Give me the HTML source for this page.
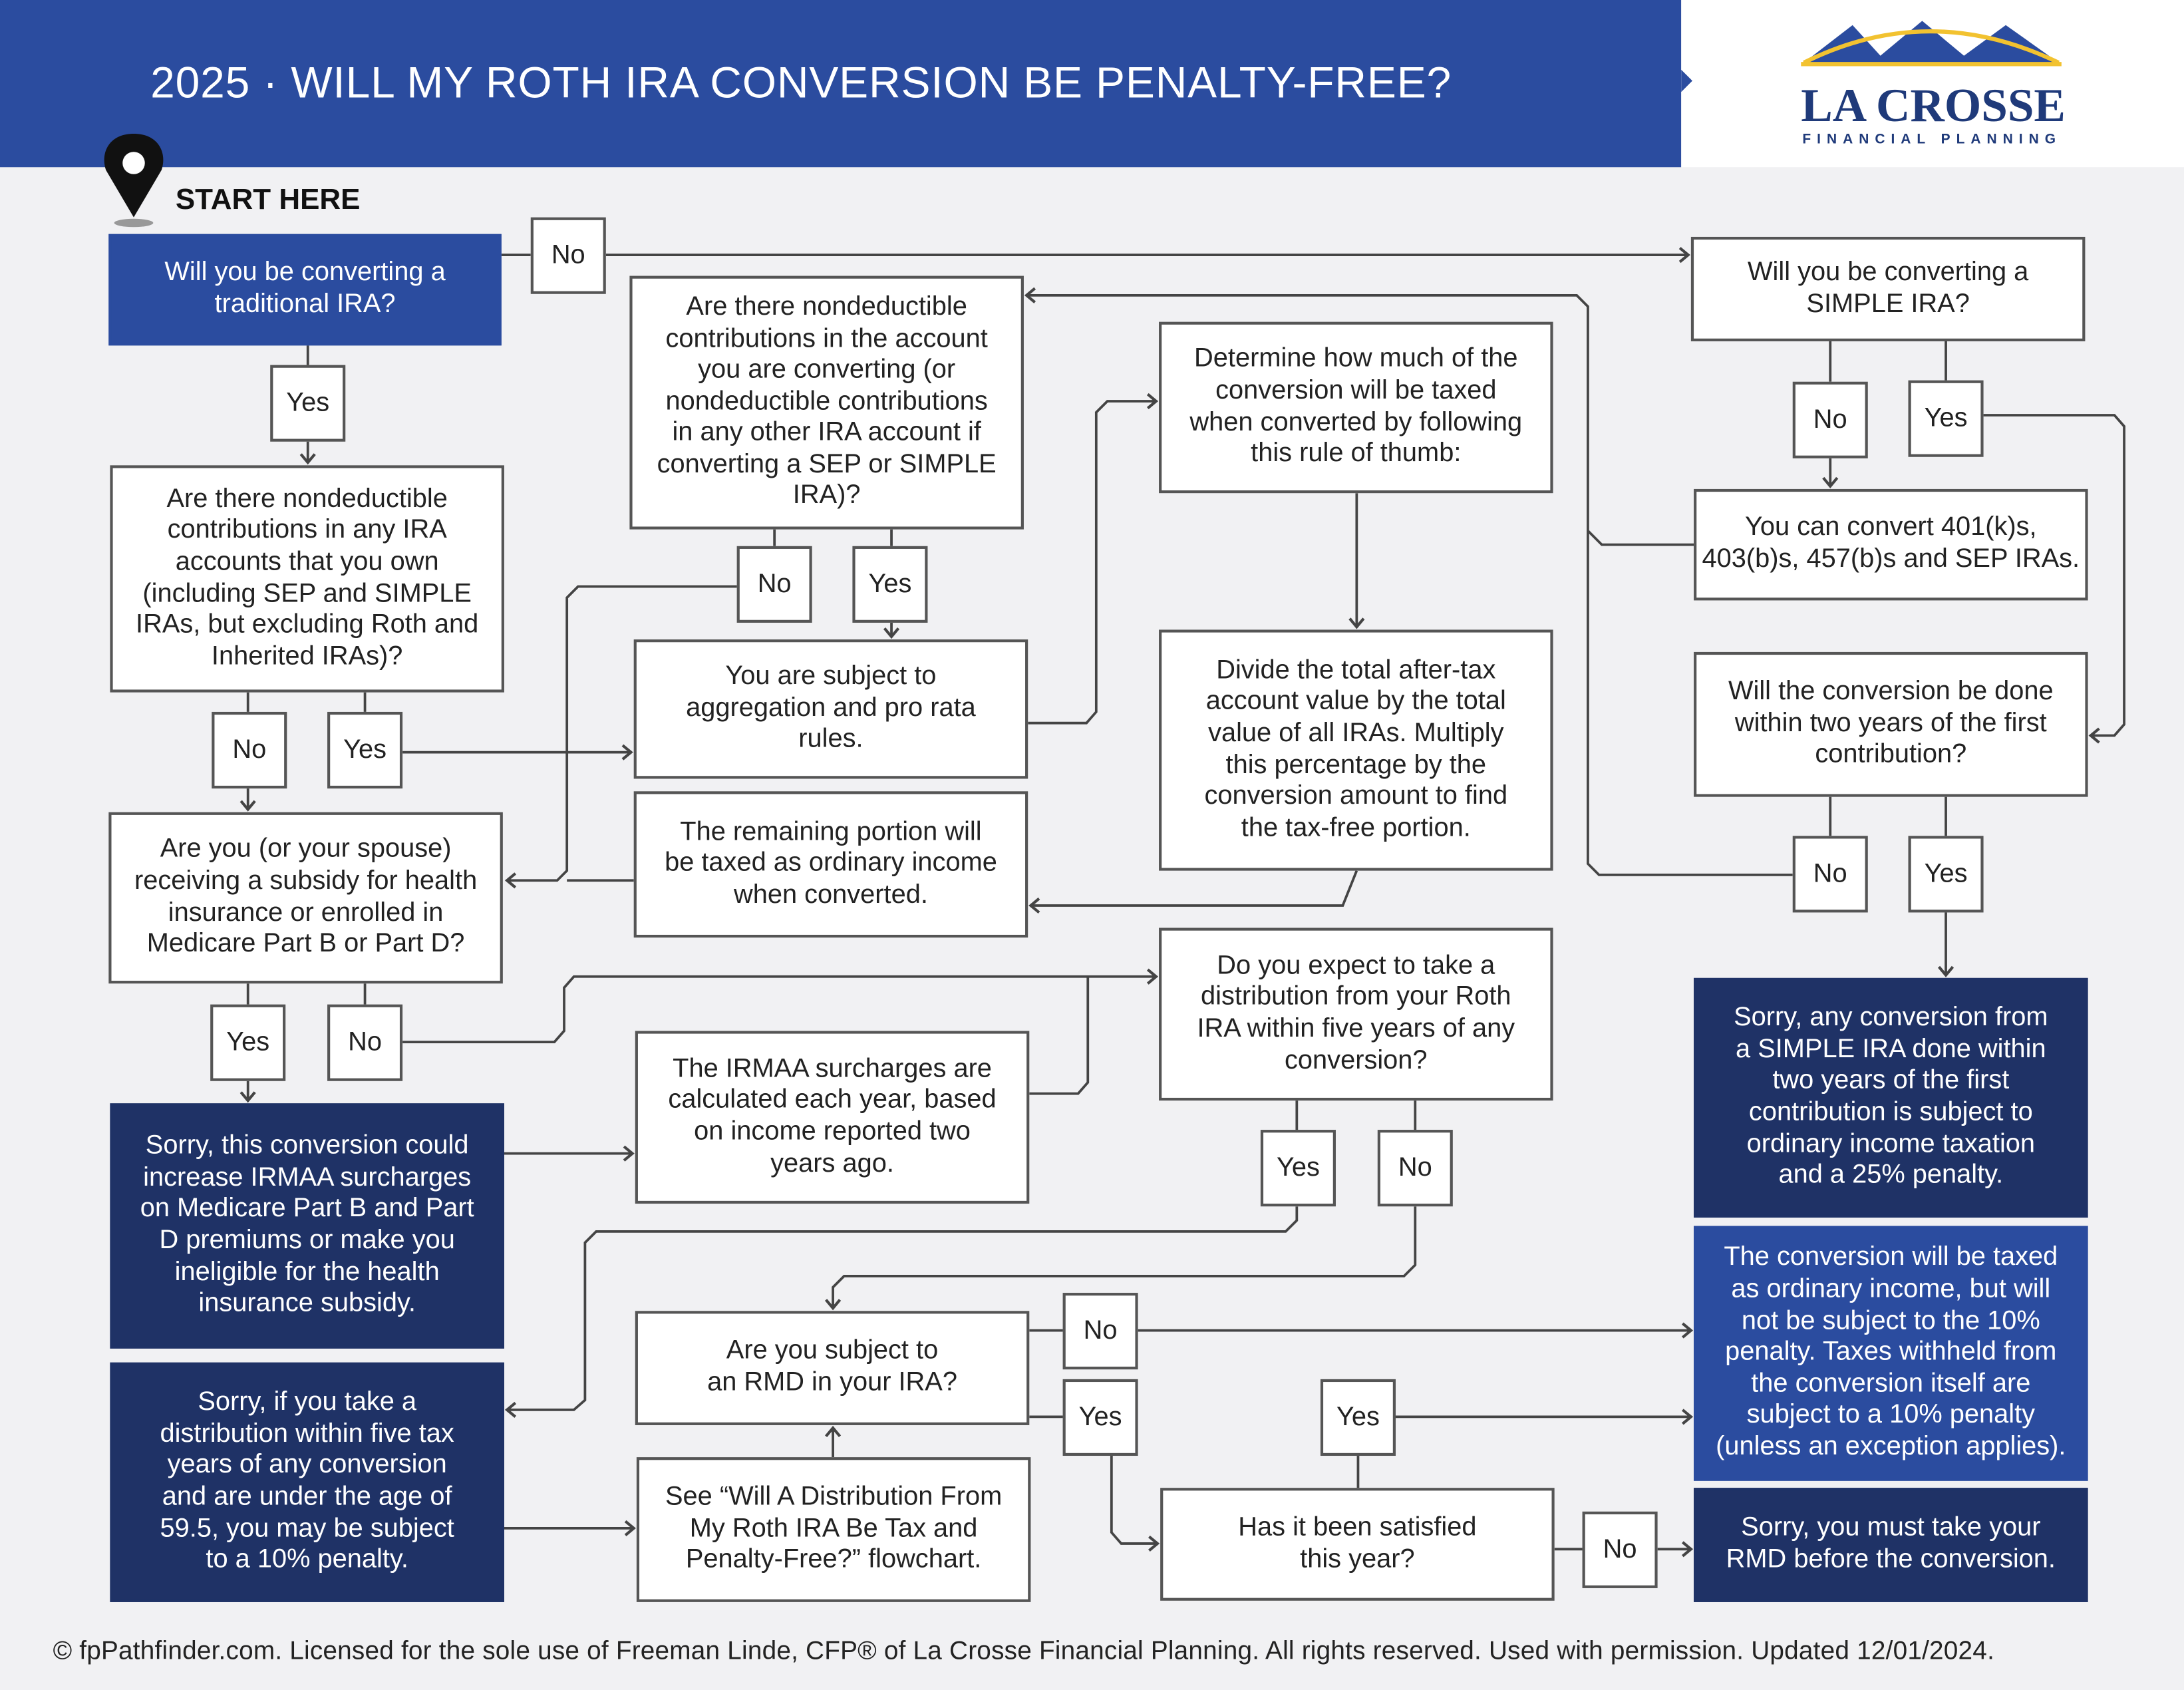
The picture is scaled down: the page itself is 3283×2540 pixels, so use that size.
<!DOCTYPE html>
<html><head><meta charset="utf-8">
<style>
html,body{margin:0;padding:0;}
body{width:3283px;height:2539px;overflow:hidden;background:#f1f1f3;}
#w{position:absolute;left:0;top:0;width:1568px;height:1213px;transform:scale(2.0938);transform-origin:0 0;font-family:"Liberation Sans",sans-serif;background:#f1f1f3;}
.b{position:absolute;box-sizing:border-box;border:2px solid #555;background:#fff;display:flex;align-items:center;justify-content:center;text-align:center;font-size:19px;line-height:22.6px;color:#222;padding:0 2px;white-space:nowrap;}
.l{position:absolute;box-sizing:border-box;border:2px solid #555;background:#fff;width:54px;height:55px;display:flex;align-items:center;justify-content:center;font-size:19px;color:#222;}
.blue{background:#2b4c9f;color:#fff;border-color:#2b4c9f;}
.navy{background:#1f3266;color:#fff;border-color:#1f3266;}
svg{position:absolute;left:0;top:0;}
</style></head><body><div id="w">
<div style="position:absolute;left:0;top:0;width:1207px;height:120px;background:#2b4c9f;"></div>
<div style="position:absolute;left:1207px;top:0;width:361px;height:120px;background:#fff;"></div>
<div style="position:absolute;left:108px;top:41px;font-size:31.5px;color:#fff;letter-spacing:0.4px;font-weight:300;">2025 · WILL MY ROTH IRA CONVERSION BE PENALTY-FREE?</div>
<div style="position:absolute;left:1293px;top:58px;font-family:'Liberation Serif',serif;font-weight:bold;font-size:34px;color:#1f3a7a;letter-spacing:0px;">LA CROSSE</div>
<div style="position:absolute;left:1294px;top:95px;font-size:10px;font-weight:bold;color:#1f3a7a;letter-spacing:4.3px;">FINANCIAL PLANNING</div>
<div style="position:absolute;left:126px;top:132px;font-size:21px;font-weight:bold;color:#111;">START HERE</div>
<svg width="1568" height="1213" viewBox="0 0 1568 1213">
<defs><marker id="a" markerUnits="userSpaceOnUse" markerWidth="12" markerHeight="14" refX="7" refY="6" orient="auto"><path d="M1,1 L7,6 L1,11" fill="none" stroke="#444" stroke-width="2"/></marker></defs>
<path d="M1207,50 L1215,58 L1207,66 Z" fill="#2b4c9f"/>
<g fill="#2b4c9f"><path d="M1295,45 L1330,18 L1350,40 L1380,15 L1410,40 L1440,18 L1478,45 Z"/></g>
<path d="M1295,45 Q1385,0 1478,45" fill="none" stroke="#f2c230" stroke-width="3"/>
<path d="M1293,46 H1480" stroke="#f2c230" stroke-width="3"/>
<path d="M96,96 C78,96 72,110 76,122 L96,156 L116,122 C120,110 114,96 96,96 Z" fill="#111"/>
<circle cx="96" cy="117" r="8" fill="#fff"/>
<ellipse cx="96" cy="160" rx="14" ry="3" fill="#999"/>
<g fill="none" stroke="#444" stroke-width="1.8">
<path d="M360,183 H381"/><path d="M435,183 H1212" marker-end="url(#a)"/>
<path d="M221,248 V262"/><path d="M221,316 V332" marker-end="url(#a)"/>
<path d="M178,497 V511"/><path d="M262,497 V511"/>
<path d="M178,566 V581" marker-end="url(#a)"/>
<path d="M289,540 H453" marker-end="url(#a)"/>
<path d="M178,706 V721"/><path d="M262,706 V721"/>
<path d="M178,776 V790" marker-end="url(#a)"/>
<path d="M289,748 H398 L405,740 V709 L412,701 H830" marker-end="url(#a)"/>
<path d="M739,785 H774 L781,777 V701"/>
<path d="M362,828 H454" marker-end="url(#a)"/>
<path d="M362,1097 H455" marker-end="url(#a)"/>
<path d="M556,380 V392"/><path d="M640,380 V392"/>
<path d="M529,421 H415 L407,429 V625 L400,632 H364" marker-end="url(#a)"/>
<path d="M455,632 H407"/>
<path d="M640,447 V457" marker-end="url(#a)"/>
<path d="M738,519 H780 L787,511 V296 L795,288 H830" marker-end="url(#a)"/>
<path d="M974,354 V450" marker-end="url(#a)"/>
<path d="M974,625 L964,650 H740" marker-end="url(#a)"/>
<path d="M931,790 V811"/><path d="M1016,790 V811"/>
<path d="M931,866 V876 L923,884 H428 L420,892 V1005 L412,1012 H364" marker-end="url(#a)"/>
<path d="M1016,866 V908 L1008,916 H606 L598,924 V939" marker-end="url(#a)"/>
<path d="M739,955 H763"/><path d="M817,955 H1214" marker-end="url(#a)"/>
<path d="M739,1017 H763"/>
<path d="M798,1045 V1100 L805,1108 H831" marker-end="url(#a)"/>
<path d="M598,1046 V1025" marker-end="url(#a)"/>
<path d="M1002,1017 H1214" marker-end="url(#a)"/>
<path d="M975,1045 V1068"/>
<path d="M1116,1112 H1136"/><path d="M1190,1112 H1214" marker-end="url(#a)"/>
<path d="M1314,245 V274"/><path d="M1397,245 V273"/>
<path d="M1314,329 V349" marker-end="url(#a)"/>
<path d="M1424,298 H1518 L1525,306 V520 L1518,528 H1501" marker-end="url(#a)"/>
<path d="M1216,391 H1150 L1140,381 V220 L1132,212 H737" marker-end="url(#a)"/>
<path d="M1287,628 H1148 L1140,620 V381"/>
<path d="M1314,572 V600"/><path d="M1397,572 V600"/>
<path d="M1397,655 V700" marker-end="url(#a)"/>
</g>
</svg>
<div class="b blue" style="left:78px;top:168px;width:282px;height:80px;">Will you be converting a<br>traditional IRA?</div>
<div class="l" style="left:381px;top:156px;">No</div>
<div class="l" style="left:194px;top:262px;">Yes</div>
<div class="b" style="left:79px;top:334px;width:283px;height:163px;">Are there nondeductible<br>contributions in any IRA<br>accounts that you own<br>(including SEP and SIMPLE<br>IRAs, but excluding Roth and<br>Inherited IRAs)?</div>
<div class="l" style="left:152px;top:511px;">No</div>
<div class="l" style="left:235px;top:511px;">Yes</div>
<div class="b" style="left:78px;top:583px;width:283px;height:123px;">Are you (or your spouse)<br>receiving a subsidy for health<br>insurance or enrolled in<br>Medicare Part B or Part D?</div>
<div class="l" style="left:151px;top:721px;">Yes</div>
<div class="l" style="left:235px;top:721px;">No</div>
<div class="b navy" style="left:79px;top:792px;width:283px;height:176px;">Sorry, this conversion could<br>increase IRMAA surcharges<br>on Medicare Part B and Part<br>D premiums or make you<br>ineligible for the health<br>insurance subsidy.</div>
<div class="b navy" style="left:79px;top:978px;width:283px;height:172px;">Sorry, if you take a<br>distribution within five tax<br>years of any conversion<br>and are under the age of<br>59.5, you may be subject<br>to a 10% penalty.</div>
<div class="b" style="left:452px;top:198px;width:283px;height:182px;">Are there nondeductible<br>contributions in the account<br>you are converting (or<br>nondeductible contributions<br>in any other IRA account if<br>converting a SEP or SIMPLE<br>IRA)?</div>
<div class="l" style="left:529px;top:392px;">No</div>
<div class="l" style="left:612px;top:392px;">Yes</div>
<div class="b" style="left:455px;top:459px;width:283px;height:100px;">You are subject to<br>aggregation and pro rata<br>rules.</div>
<div class="b" style="left:455px;top:568px;width:283px;height:105px;">The remaining portion will<br>be taxed as ordinary income<br>when converted.</div>
<div class="b" style="left:456px;top:740px;width:283px;height:124px;">The IRMAA surcharges are<br>calculated each year, based<br>on income reported two<br>years ago.</div>
<div class="b" style="left:456px;top:941px;width:283px;height:82px;">Are you subject to<br>an RMD in your IRA?</div>
<div class="b" style="left:457px;top:1046px;width:283px;height:104px;">See “Will A Distribution From<br>My Roth IRA Be Tax and<br>Penalty-Free?” flowchart.</div>
<div class="l" style="left:763px;top:928px;">No</div>
<div class="l" style="left:763px;top:990px;">Yes</div>
<div class="b" style="left:832px;top:231px;width:283px;height:123px;">Determine how much of the<br>conversion will be taxed<br>when converted by following<br>this rule of thumb:</div>
<div class="b" style="left:832px;top:452px;width:283px;height:173px;">Divide the total after-tax<br>account value by the total<br>value of all IRAs. Multiply<br>this percentage by the<br>conversion amount to find<br>the tax-free portion.</div>
<div class="b" style="left:832px;top:666px;width:283px;height:124px;">Do you expect to take a<br>distribution from your Roth<br>IRA within five years of any<br>conversion?</div>
<div class="l" style="left:905px;top:811px;">Yes</div>
<div class="l" style="left:989px;top:811px;">No</div>
<div class="l" style="left:948px;top:990px;">Yes</div>
<div class="b" style="left:833px;top:1068px;width:283px;height:81px;">Has it been satisfied<br>this year?</div>
<div class="l" style="left:1136px;top:1085px;">No</div>
<div class="b" style="left:1214px;top:170px;width:283px;height:75px;">Will you be converting a<br>SIMPLE IRA?</div>
<div class="l" style="left:1287px;top:274px;">No</div>
<div class="l" style="left:1370px;top:273px;">Yes</div>
<div class="b" style="left:1216px;top:351px;width:283px;height:80px;">You can convert 401(k)s,<br>403(b)s, 457(b)s and SEP IRAs.</div>
<div class="b" style="left:1216px;top:468px;width:283px;height:104px;">Will the conversion be done<br>within two years of the first<br>contribution?</div>
<div class="l" style="left:1287px;top:600px;">No</div>
<div class="l" style="left:1370px;top:600px;">Yes</div>
<div class="b navy" style="left:1216px;top:702px;width:283px;height:172px;">Sorry, any conversion from<br>a SIMPLE IRA done within<br>two years of the first<br>contribution is subject to<br>ordinary income taxation<br>and a 25% penalty.</div>
<div class="b blue" style="left:1216px;top:880px;width:283px;height:183px;">The conversion will be taxed<br>as ordinary income, but will<br>not be subject to the 10%<br>penalty. Taxes withheld from<br>the conversion itself are<br>subject to a 10% penalty<br>(unless an exception applies).</div>
<div class="b navy" style="left:1216px;top:1068px;width:283px;height:82px;">Sorry, you must take your<br>RMD before the conversion.</div>
<div style="position:absolute;left:38px;top:1174px;font-size:18.5px;color:#222;white-space:nowrap;letter-spacing:0.1px;">© fpPathfinder.com. Licensed for the sole use of Freeman Linde, CFP® of La Crosse Financial Planning. All rights reserved. Used with permission. Updated 12/01/2024.</div>
</div></body></html>
